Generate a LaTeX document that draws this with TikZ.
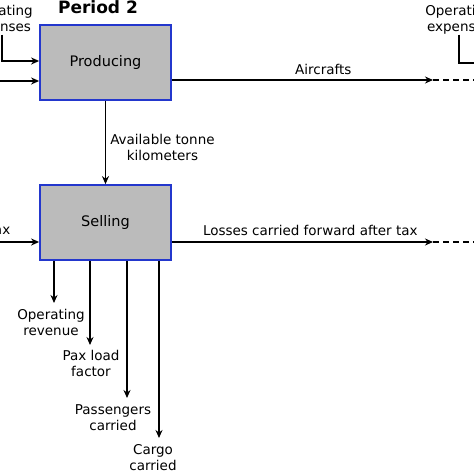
\documentclass[tikz,border=0pt]{standalone}
\usepackage{fontspec}
\setmainfont{DejaVu Sans}
\usepackage{xcolor}
\usetikzlibrary{arrows.meta, positioning}

\definecolor{boxblue}{RGB}{35,55,205}
\definecolor{boxgray}{RGB}{187,187,187}

\begin{document}
\begin{tikzpicture}[x=1pt, y=-1pt, >={Stealth[length=8pt,width=7pt]}, line width=1.5pt,
    proc/.style={draw=boxblue, fill=boxgray, line width=1.8pt, minimum width=131pt,
        minimum height=75pt, font=\fontsize{14.5}{17}\selectfont},
    lbl/.style={font=\fontsize{13.5}{16}\selectfont, align=center, inner sep=0pt},
    nextp/.style={dash pattern=on 6pt off 4pt}]
    \useasboundingbox (0,0) rectangle (474,474);
    \clip (0,0) rectangle (474,474);

    % Hai khoi chinh
    \node[proc] (prod) at (105.5,62.5) {Producing};
    \node[proc] (sell) at (105.5,222.5) {Selling};
    \node[font=\bfseries\fontsize{17}{20}\selectfont, inner sep=0pt, anchor=base] (period) at (98,13) {Period 2};

    % Dau vao khoi san xuat
    \node[lbl, anchor=north] (opexa) at (-1,4) {Operating\\expenses};
    \coordinate (opexbend) at (2,61);
    \draw[->] (opexa.south -| opexbend) -- (opexbend) -- (opexbend -| prod.west);
    \coordinate (acin) at (0,81);
    \draw[->] (acin) -- (acin -| prod.west);

    % Dau ra khoi san xuat
    \coordinate (acout) at (433,80);
    \draw[->] (prod.east |- acout) -- node[lbl, above=5pt, pos=0.58] (aircr) {Aircrafts} (acout);
    \coordinate (acnext) at (480,80);
    \draw[nextp] (acout) -- (acnext);

    % Chi phi giai doan sau
    \node[lbl, anchor=north] (opexb) at (459,4) {Operating\\expenses};
    \coordinate (opexbendb) at (459,63);
    \coordinate (opexnext) at (480,63);
    \draw (opexb.south -| opexbendb) -- (opexbendb) -- (opexnext);

    % Tu san xuat sang ban
    \draw[->] (prod) -- node[lbl, right=4pt, yshift=-5pt] (atk) {Available tonne\\kilometers} (sell);

    % Dau vao va dau ra khoi ban
    \coordinate (taxin) at (0,242);
    \node[lbl, anchor=base east] (lossa) at (11,234) {Losses carried forward after tax};
    \draw[->] (taxin) -- (taxin -| sell.west);
    \coordinate (lossout) at (433,242);
    \draw[->] (sell.east |- lossout) -- node[lbl, above=6pt, pos=0.53] (lossb) {Losses carried forward after tax} (lossout);
    \coordinate (lossnext) at (480,242);
    \draw[nextp] (lossout) -- (lossnext);

    % Cac chi so dau ra
    \coordinate (revend) at (54,303);
    \coordinate (paxend) at (90,345);
    \coordinate (passend) at (127,398);
    \coordinate (cargoend) at (159,438);
    \draw[->] (revend |- sell.south) -- (revend) node[lbl, below=5pt, xshift=-3pt] (rev) {Operating\\revenue};
    \draw[->] (paxend |- sell.south) -- (paxend) node[lbl, below=4pt, xshift=1pt] (pax) {Pax load\\factor};
    \draw[->] (passend |- sell.south) -- (passend) node[lbl, below=6pt, xshift=-14pt] (pass) {Passengers\\carried};
    \draw[->] (cargoend |- sell.south) -- (cargoend) node[lbl, below=6pt, xshift=-6pt] (cargo) {Cargo\\carried};
\end{tikzpicture}
\end{document}
